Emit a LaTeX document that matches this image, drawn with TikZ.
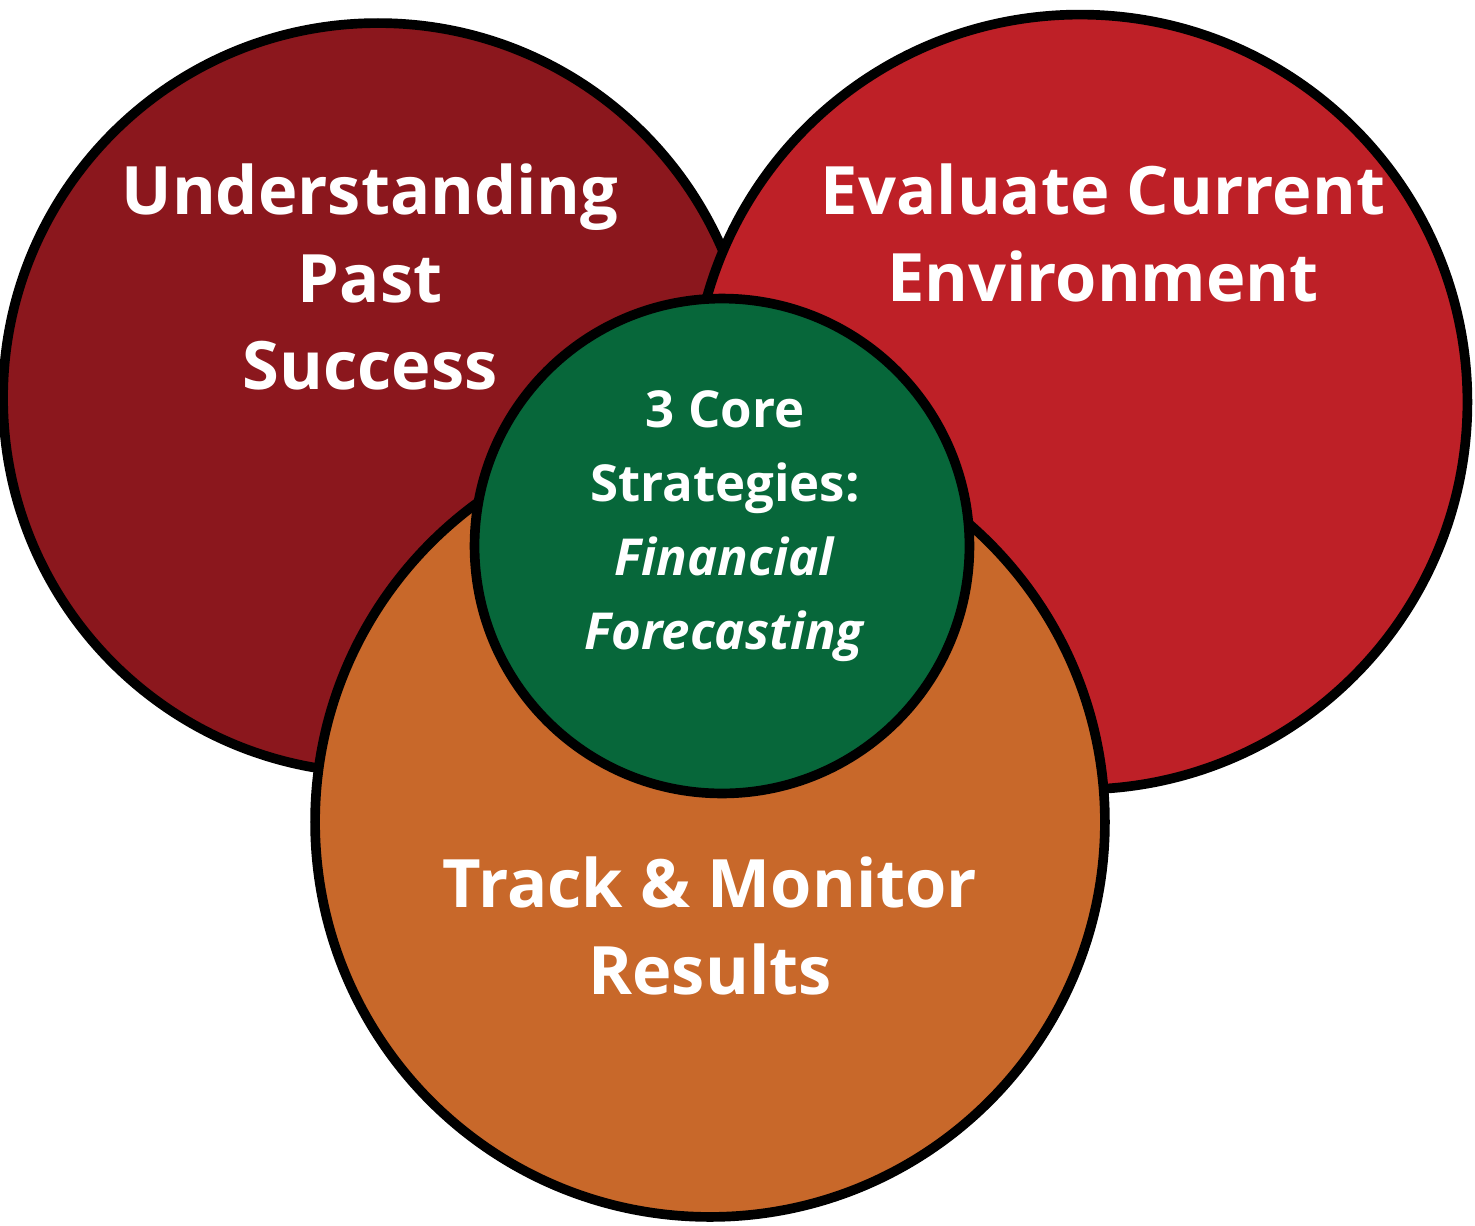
\documentclass[tikz,border=0pt]{standalone}
\usepackage{fontspec}
\setmainfont{Open Sans}
\usetikzlibrary{positioning}
\definecolor{pastred}{HTML}{8B171D}
\definecolor{nowred}{HTML}{BE2027}
\definecolor{trackorange}{HTML}{C8682A}
\definecolor{coregreen}{HTML}{07673A}
\tikzset{ring/.style={circle,draw=black,line width=5.5pt,inner sep=0pt},
         bigtext/.style={text=white,font=\fontsize{38}{50}\selectfont\bfseries,align=center},
         coretext/.style={text=white,font=\fontsize{29}{42}\selectfont\bfseries,align=center}}
\begin{document}
\begin{tikzpicture}[x=0.02cm,y=-0.02cm]
    \useasboundingbox (0,0) rectangle (1475,1225);
        \node[ring,fill=pastred,minimum size=15cm] (past) at (378,398) {};
        \node[ring,fill=nowred,minimum size=15.5cm] (now) at (1080,402) {};
        \node[ring,fill=trackorange,minimum size=15.8cm] (track) at (710,822) {};
        \node[ring,fill=coregreen,minimum size=9.9cm] (core) at (722,546) {};
        \node[bigtext] (pastlbl) at (370,277) {Understanding\\Past\\Success};
        \node[bigtext] (nowlbl) at (1103,233) {Evaluate Current\\Environment};
        \node[bigtext] (tracklbl) at (710,926) {Track \& Monitor\\Results};
        \node[coretext] (corelbl) at (725,526) {3 Core\\Strategies:\\\textit{Financial}\\\textit{Forecasting}};
    \end{tikzpicture}
\end{document}
